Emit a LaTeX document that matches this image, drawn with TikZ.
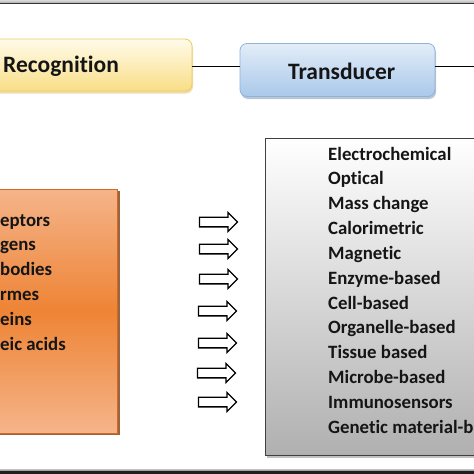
\documentclass[tikz,border=0pt]{standalone}
\usepackage{fontspec}
\setmainfont{Carlito}[Ligatures=NoCommon]
\usetikzlibrary{shapes.arrows,shadows}
\definecolor{txt}{HTML}{151515}
\definecolor{recTop}{HTML}{FFFBEA}
\definecolor{recBot}{HTML}{F9DE86}
\definecolor{recLine}{HTML}{EBCB63}
\definecolor{trTop}{HTML}{E3EDF8}
\definecolor{trBot}{HTML}{A9C8EA}
\definecolor{trLine}{HTML}{8FB2D9}
\definecolor{orLight}{HTML}{F5B48A}
\definecolor{orMid}{HTML}{EE8435}
\definecolor{orLine}{HTML}{D06A25}
\definecolor{orShadow}{HTML}{8A4A1E}
\tikzset{
  x=1pt,y=-1pt,
  headbox/.style={draw, line width=0.8pt, rounded corners=7pt},
  recog/.style={headbox, draw=recLine, top color=recTop, bottom color=recBot,
     drop shadow={shadow xshift=1pt, shadow yshift=-2.5pt, fill=recLine!80!brown, opacity=0.5}},
  transd/.style={headbox, draw=trLine, top color=trTop, bottom color=trBot,
     drop shadow={shadow xshift=1pt, shadow yshift=-2.5pt, fill=trLine!70!gray, opacity=0.6}},
  itemtxt/.style={anchor=base west, inner sep=0pt, font=\fontsize{18.8}{20}\selectfont\bfseries, text=txt},
  headtxt/.style={itemtxt, font=\fontsize{23.5}{26}\selectfont\bfseries},
  hollow/.style={single arrow, draw=black, fill=white, line width=1.3pt, minimum height=38pt, inner sep=4.2pt,
     single arrow head extend=4.5pt, single arrow head indent=0pt},
  conn/.style={draw=black, line width=1pt},
}
\begin{document}
\begin{tikzpicture}
\useasboundingbox (0,0) rectangle (474,474);
\begin{scope}
\clip (0,0) rectangle (474,474);
\fill[white] (0,0) rectangle (474,474);
% top and bottom frame bands
\shade[top color=gray!30, bottom color=gray!70] (0,0) rectangle (474,3.5);
\draw[gray!40!black, line width=0.8pt] (0,3.5) -- (474,3.5);
\shade[top color=gray!60, bottom color=black!90] (474,469.5) rectangle (0,474);
\fill[black!88] (0,471) rectangle (474,474);

% header boxes
\node[recog, minimum width=212pt, minimum height=52pt] (rec) at (86,65) {};
\node[headtxt] (rect) at (3,72) {Recognition};
\node[transd, minimum width=195pt, minimum height=53pt] (tra) at (337.5,70) {};
\node[headtxt] (trat) at (288,79) {Transducer};
\coordinate (rend) at (476,66);
\draw[conn] (rec.east |- 0,66) -- (tra.west |- 0,66);
\draw[conn] (tra.east |- 0,66) -- (rend);

% orange box
\node[draw=orLine, line width=1pt, minimum width=130pt, minimum height=244pt,
      top color=orLight, bottom color=orLight, middle color=orMid,
      drop shadow={shadow xshift=2.5pt, shadow yshift=-2pt, fill=orShadow, opacity=0.85}] (obox) at (52,311) {};
\foreach \t [count=\i] in {eptors,gens,bodies,rmes,eins,eic acids}{
  \node[itemtxt] (o\i) at (0,{226+24.8*(\i-1)}) {\t};
}

% arrows
\foreach \y/\xx [count=\i] in {222/216, 249/216, 279/216, 311/215, 343/215, 373/214, 402/215}{
  \node[hollow] (a\i) at (\xx,\y) {};
}

% gray box
\node[draw=gray!50!black, line width=1pt, minimum width=220pt, minimum height=317pt,
      top color=white, bottom color=gray!62,
      drop shadow={shadow xshift=2pt, shadow yshift=-3pt, fill=gray!70, opacity=0.7}] (gbox) at (375,296.5) {};
\foreach \t [count=\i] in {Electrochemical,Optical,Mass change,Calorimetric,Magnetic,Enzyme-based,Cell-based,Organelle-based,Tissue based,Microbe-based,Immunosensors,Genetic material-b}{
  \node[itemtxt] (g\i) at (328,{160+24.85*(\i-1)}) {\t};
}
\end{scope}
\end{tikzpicture}
\end{document}
